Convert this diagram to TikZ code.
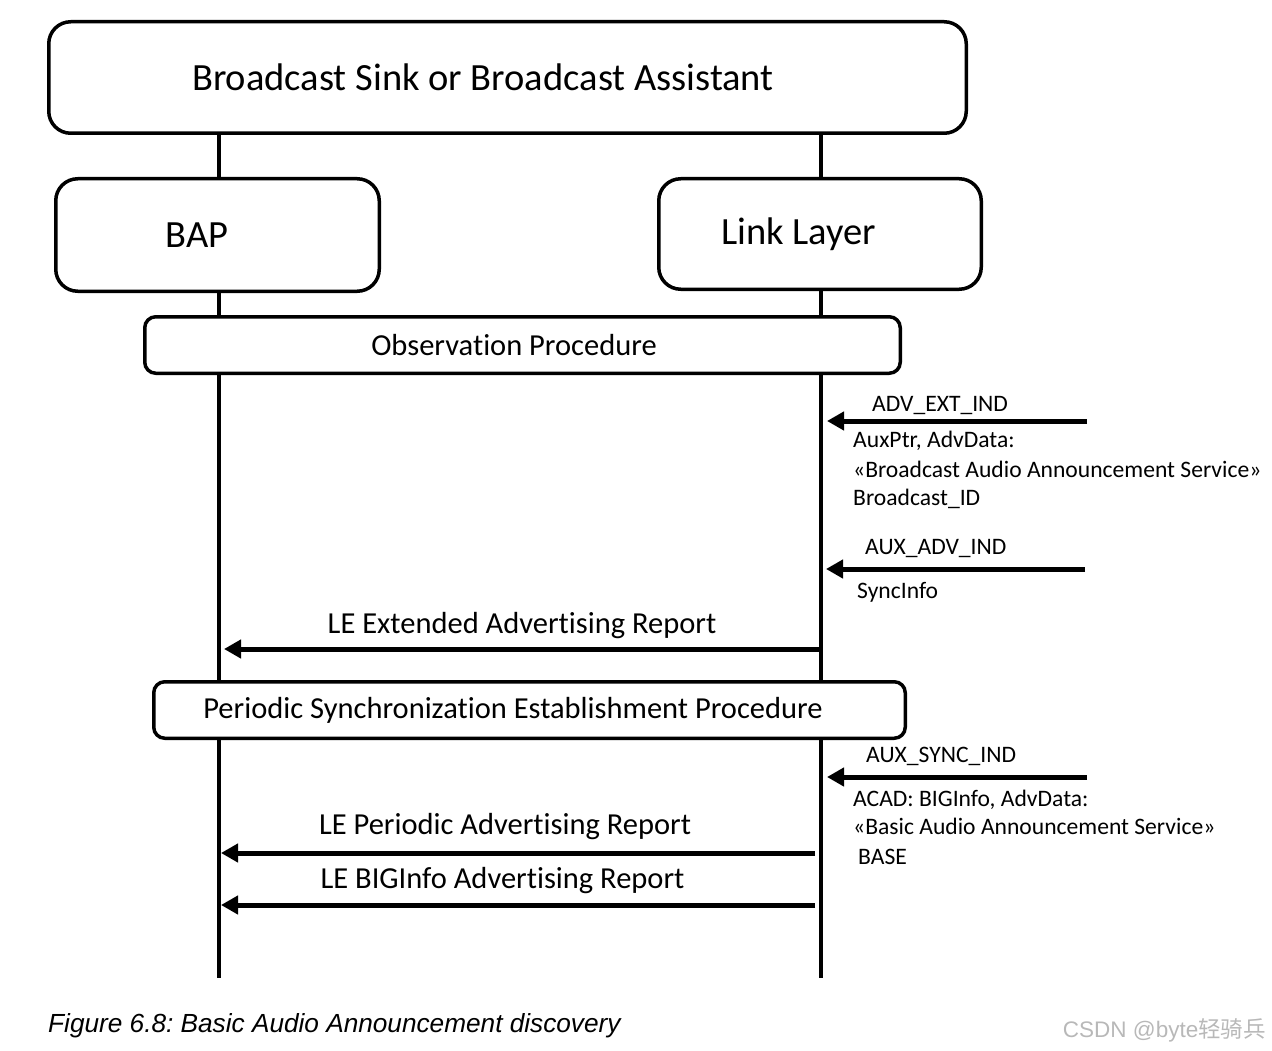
\documentclass[tikz,border=0pt]{standalone}
\usepackage{fontspec}
\setmainfont{Carlito}[Ligatures=CommonOff]
\newfontfamily\capfont{Liberation Sans}
\newfontfamily\cjkfont{Noto Sans CJK SC}
\usetikzlibrary{arrows.meta,backgrounds}
\newcommand\padr[1]{\rule{#1}{0pt}}
\frenchspacing
\begin{document}
\begin{tikzpicture}[x=1pt,y=-1pt,
  lbox/.style={draw, line width=3.5pt, rounded corners=#1, fill=white, inner sep=0pt},
  life/.style={line width=4.5pt},
  msg/.style={line width=5pt, -{Triangle[length=17pt,width=18pt]}},
  bigtxt/.style={font=\fontsize{38.5}{44}\selectfont},
  midtxt/.style={font=\fontsize{30.5}{36}\selectfont},
  msgtxt/.style={font=\fontsize{30.5}{36}\selectfont, inner sep=0pt, anchor=base},
  smalltxt/.style={font=\fontsize{23.6}{29}\selectfont, inner sep=0pt, anchor=base west},
]
\useasboundingbox (0,0) rectangle (1272,1051);

% participant boxes
\node[lbox=22pt, minimum width=917.5pt, minimum height=111.5pt, bigtxt] (top) at (507.5,77.5)
  {Broadcast Sink or Broadcast Assistant\padr{49pt}};
\node[lbox=22pt, minimum width=323.5pt, minimum height=112.5pt, bigtxt] (bap) at (217.5,235)
  {BAP\padr{41pt}};
\node[lbox=22pt, minimum width=322.5pt, minimum height=110.5pt, bigtxt] (ll) at (820,234)
  {Link Layer\padr{43pt}};
\node[lbox=11pt, minimum width=755.5pt, minimum height=56.5pt, midtxt] (obs) at (522.5,345)
  {Observation Procedure\padr{17pt}};
\node[lbox=11pt, minimum width=751.5pt, minimum height=56.5pt, midtxt] (pse) at (529.5,710)
  {Periodic Synchronization Establishment Procedure\padr{33pt}};

% lifeline ends
\coordinate (Lend) at (219,978);
\coordinate (Rend) at (821,978);

\begin{pgfonlayer}{background}
  \draw[life] (top.south -| Lend) -- (Lend);
  \draw[life] (top.south -| Rend) -- (Rend);
\end{pgfonlayer}

% message end points
\coordinate (advS) at (1087,421);   \coordinate (advT) at (827,421);
\coordinate (auxS) at (1085,569);   \coordinate (auxT) at (826,569);
\coordinate (syncS) at (1087,777);  \coordinate (syncT) at (827,777);
\coordinate (extS) at (821,649);    \coordinate (extT) at (224,649);
\coordinate (perS) at (815,853);    \coordinate (perT) at (221,853);
\coordinate (bigS) at (815,905);    \coordinate (bigT) at (221,905);

\draw[msg] (advS) -- (advT);
\draw[msg] (auxS) -- (auxT);
\draw[msg] (syncS) -- (syncT);
\draw[msg] (extS) -- (extT);
\draw[msg] (perS) -- (perT);
\draw[msg] (bigS) -- (bigT);

% right-hand labels
\node[smalltxt] (advL) at (872,411) {ADV\_EXT\_IND};
\node[smalltxt] (advD1) at (853,447) {AuxPtr, AdvData:};
\node[smalltxt] (advD2) at (853,477) {«Broadcast Audio Announcement Service»};
\node[smalltxt] (advD3) at (853,505) {Broadcast\_ID};
\node[smalltxt] (auxL) at (865,554) {AUX\_ADV\_IND};
\node[smalltxt] (auxD) at (857,598) {SyncInfo};
\node[smalltxt] (syncL) at (866,762) {AUX\_SYNC\_IND};
\node[smalltxt] (syncD1) at (853,806) {ACAD: BIGInfo, AdvData:};
\node[smalltxt] (syncD2) at (853,834) {«Basic Audio Announcement Service»};
\node[smalltxt] (syncD3) at (858,864) {BASE};

% left-hand labels
\node[msgtxt] (extL) at (522,633) {LE Extended Advertising Report};
\node[msgtxt] (perL) at (505,834) {LE Periodic Advertising Report};
\node[msgtxt] (bigL) at (502.5,888) {LE BIGInfo Advertising Report};

% caption and watermark
\node[font=\capfont\itshape\fontsize{26.2}{30}\selectfont, inner sep=0pt, anchor=base west] (cap) at (48,1032)
  {Figure 6.8: Basic Audio Announcement discovery};
\node[font=\capfont\fontsize{22.5}{28}\selectfont, text=black!28, inner sep=0pt, anchor=base east] (wm) at (1266,1037)
  {CSDN @byte{\cjkfont 轻骑兵}};
\end{tikzpicture}
\end{document}
